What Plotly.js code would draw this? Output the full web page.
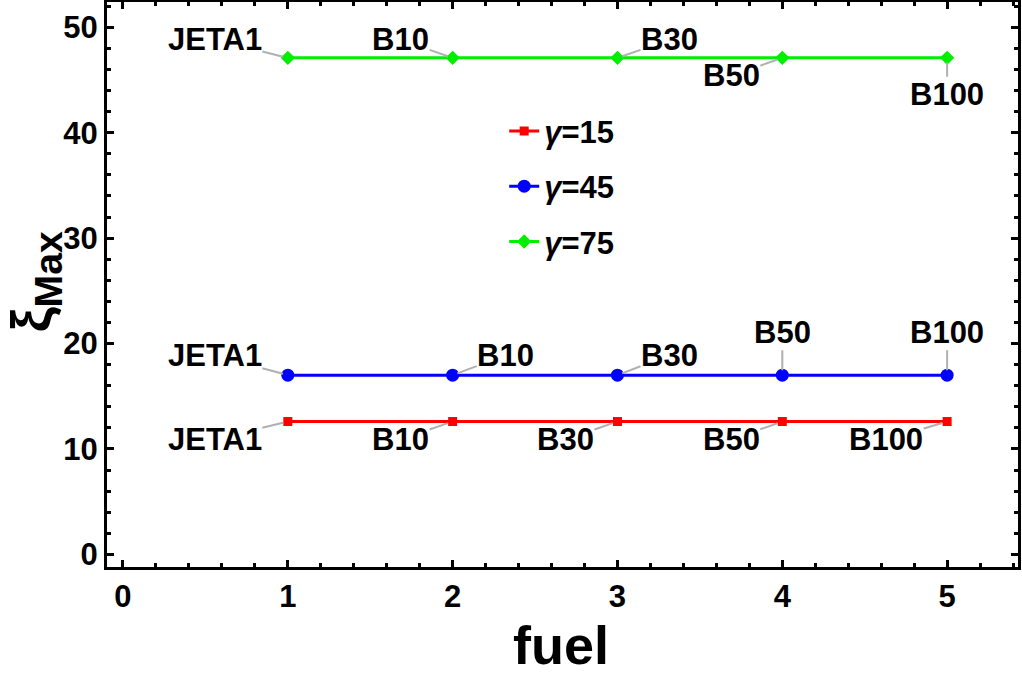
<!DOCTYPE html>
<html>
<head>
<meta charset="utf-8">
<script src="https://cdn.plot.ly/plotly-3.0.1.min.js"></script>
<style>html,body{margin:0;padding:0;background:#fff;}#chart{width:1022px;height:676px;}</style>
</head>
<body>
<div id="chart"></div>
<script>
// Data
var fuelIndex = [1, 2, 3, 4, 5];
var fuelNames = ["JETA1", "B10", "B30", "B50", "B100"];
var seriesNames = ["<i>\u03b3</i>=15", "<i>\u03b3</i>=45", "<i>\u03b3</i>=75"];
var xiGamma15 = [12.6, 12.6, 12.6, 12.6, 12.6];
var xiGamma45 = [17.0, 17.0, 17.0, 17.0, 17.0];
var xiGamma75 = [47.1, 47.1, 47.1, 47.1, 47.1];
var xTicks = [0, 1, 2, 3, 4, 5];
var yTicks = [0, 10, 20, 30, 40, 50];
var xTitle = "fuel";
var yTitle = "\u03be<sub>Max</sub>";

// Label offsets (pixels) for each series' callouts
var off15 = [[-73, 18], [-52, 18], [-52, 18], [-51, 18], [-61, 18]];
var off45 = [[-73, -20], [53, -20], [52, -20], [0, -43], [0, -43]];
var off75 = [[-73, -18], [-52, -18], [52, -18], [-51, 18], [0, 37]];

var FAM = "Liberation Sans, Arial, sans-serif";
var boldFont = {family: FAM, size: 31, color: "#000", weight: "bold"};

var traces = [
  {x: fuelIndex, y: xiGamma15, name: seriesNames[0], legendgroup: "a", mode: "lines+markers",
   line: {color: "#ff0000", width: 3}, marker: {symbol: "square", size: 9, color: "#ff0000"}},
  {x: fuelIndex, y: xiGamma45, name: seriesNames[1], legendgroup: "b", mode: "lines+markers",
   line: {color: "#0000ff", width: 3}, marker: {symbol: "circle", size: 13, color: "#0000ff"}},
  {x: fuelIndex, y: xiGamma75, name: seriesNames[2], legendgroup: "c", mode: "lines+markers",
   line: {color: "#00ee00", width: 3}, marker: {symbol: "diamond", size: 11, color: "#00ee00"}}
];

var annotations = [];
function addLabels(vals, offs) {
  for (var i = 0; i < fuelIndex.length; i++) {
    annotations.push({
      x: fuelIndex[i], y: vals[i], xref: "x", yref: "y",
      text: fuelNames[i], showarrow: true, arrowhead: 0, arrowwidth: 2,
      arrowcolor: "#b0b0b0", ax: offs[i][0], ay: offs[i][1], standoff: 5,
      font: boldFont, borderpad: 0
    });
  }
}
addLabels(xiGamma15, off15);
addLabels(xiGamma45, off45);
addLabels(xiGamma75, off75);

// Axis titles as paper-positioned texts
annotations.push({
  xref: "paper", yref: "paper", x: 0.498, y: -0.138, xanchor: "center", yanchor: "middle",
  text: xTitle, showarrow: false, borderpad: 0,
  font: {family: FAM, size: 54, color: "#000", weight: "bold"}
});
annotations.push({
  xref: "paper", yref: "paper", x: -0.080, y: 0.504, xanchor: "center", yanchor: "middle",
  text: yTitle, showarrow: false, textangle: -90, borderpad: 0,
  font: {family: FAM, size: 56, color: "#000", weight: "bold"}
});

var axisCommon = {
  showgrid: false, zeroline: false, showline: true, linecolor: "#000", linewidth: 3,
  mirror: "allticks", ticks: "inside", ticklen: 7, tickwidth: 3, tickcolor: "#000",
  tickfont: boldFont
};

var layout = {
  width: 1022, height: 676,
  margin: {l: 107, r: 4, t: 2, b: 109},
  paper_bgcolor: "#fff", plot_bgcolor: "#fff",
  showlegend: true,
  legend: {x: 0.436, y: 0.819, xanchor: "left", yanchor: "top", bgcolor: "rgba(0,0,0,0)",
           font: boldFont, tracegroupgap: 12, itemwidth: 30},
  xaxis: Object.assign({}, axisCommon, {
    range: [-0.097, 5.43], tickvals: xTicks,
    minor: {dtick: 0.2, tick0: 0, ticks: "inside", ticklen: 4, tickwidth: 3, tickcolor: "#000"}
  }),
  yaxis: Object.assign({}, axisCommon, {
    range: [-1.2, 52.4], tickvals: yTicks,
    minor: {dtick: 2, tick0: 0, ticks: "inside", ticklen: 4, tickwidth: 3, tickcolor: "#000"}
  }),
  annotations: annotations
};

Plotly.newPlot("chart", traces, layout, {displayModeBar: false, staticPlot: true});
</script>
</body>
</html>
